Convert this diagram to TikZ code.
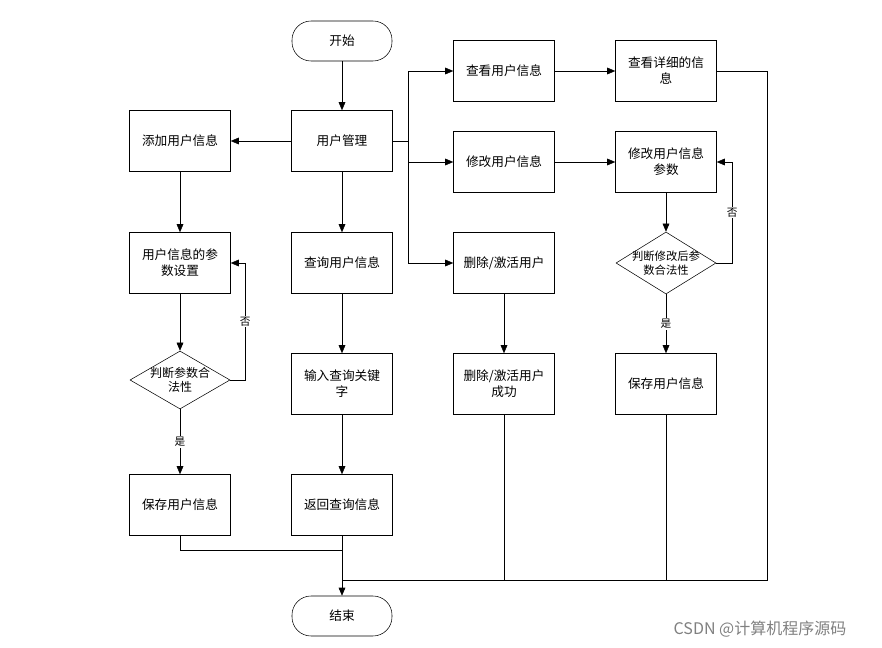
\documentclass[tikz,border=0pt]{standalone}
\usepackage{fontspec}
\setmainfont{Noto Sans CJK SC}
\usetikzlibrary{shapes.geometric,arrows.meta}
\tikzset{
	box/.style={draw, minimum width=101*0.75pt, minimum height=61*0.75pt, align=center, font=\fontsize{9.5}{12}\selectfont},
	term/.style={draw, rounded corners=19*0.75pt, minimum width=100*0.75pt, minimum height=40*0.75pt, font=\fontsize{9.5}{12}\selectfont},
	cond/.style={draw, diamond, aspect=2, inner sep=-6pt, minimum width=100*0.75pt, minimum height=58*0.75pt, align=center, font=\fontsize{9}{11}\selectfont},
	flow/.style={-{Triangle[length=6pt,width=5pt]}},
	lbl/.style={font=\fontsize{8}{10}\selectfont, fill=white, inner sep=1pt}
}
\begin{document}
\begin{tikzpicture}[x=0.75pt, y=-0.75pt]
	\useasboundingbox (0,0) rectangle (882,648);
	% column 1
	\node[term] (start) at (342,41) {开始};
	\node[box] (manage) at (342,141) {用户管理};
	\node[box] (add) at (180,141) {添加用户信息};
	\node[box] (param) at (180,263) {用户信息的参\\数设置};
	\node[cond] (check) at (180,380) {判断参数合\\法性};
	\node[box] (saveA) at (180,505) {保存用户信息};
	\node[box] (query) at (342,263) {查询用户信息};
	\node[box] (key) at (342,384) {输入查询关键\\字};
	\node[box] (back) at (342,505) {返回查询信息};
	\node[term] (stop) at (342,616) {结束};
	% right part
	\node[box] (view) at (504,71) {查看用户信息};
	\node[box] (edit) at (504,162) {修改用户信息};
	\node[box] (del) at (504,263) {删除/激活用户};
	\node[box] (delok) at (504,384) {删除/激活用户\\成功};
	\node[box] (detail) at (666,71) {查看详细的信\\息};
	\node[box] (editp) at (666,162) {修改用户信息\\参数};
	\node[cond, minimum height=62*0.75pt, font=\fontsize{8.5}{10.5}\selectfont] (check2) at (666,263) {判断修改后参\\数合法性};
	\node[box] (saveB) at (666,384) {保存用户信息};
	\node[font=\fontsize{12}{14}\selectfont, text=gray] (mark) at (760,629) {CSDN @计算机程序源码};
	% connectors
	\draw[flow] (start) -- (manage);
	\draw[flow] (manage) -- (add);
	\draw[flow] (add) -- (param);
	\draw[flow] (param) -- (check);
	\draw[flow] (check) -- node[lbl] {是} (saveA);
	\draw[flow] (check.east) -- ++(15,0) |- node[lbl, pos=0.25] {否} (param.east);
	\draw[flow] (manage) -- (query);
	\draw[flow] (query) -- (key);
	\draw[flow] (key) -- (back);
	\draw[flow] (back) -- (stop);
	\coordinate (split) at (408,141);
	\draw (manage.east) -- (split);
	\draw[flow] (split) |- (view);
	\draw[flow] (split) |- (edit);
	\draw[flow] (split) |- (del);
	\draw[flow] (view) -- (detail);
	\draw[flow] (edit) -- (editp);
	\draw[flow] (editp) -- (check2);
	\draw[flow] (check2) -- node[lbl] {是} (saveB);
	\draw[flow] (check2.east) -- ++(16,0) |- node[lbl, pos=0.25] {否} (editp.east);
	\draw[flow] (del) -- (delok);
	\coordinate (join) at (342,580);
	\draw (saveA.south) |- (342,550);
	\draw (detail.east) -- (767,71) |- (join);
	\draw (delok.south) -- (504,580);
	\draw (saveB.south) -- (666,580);
\end{tikzpicture}
\end{document}
